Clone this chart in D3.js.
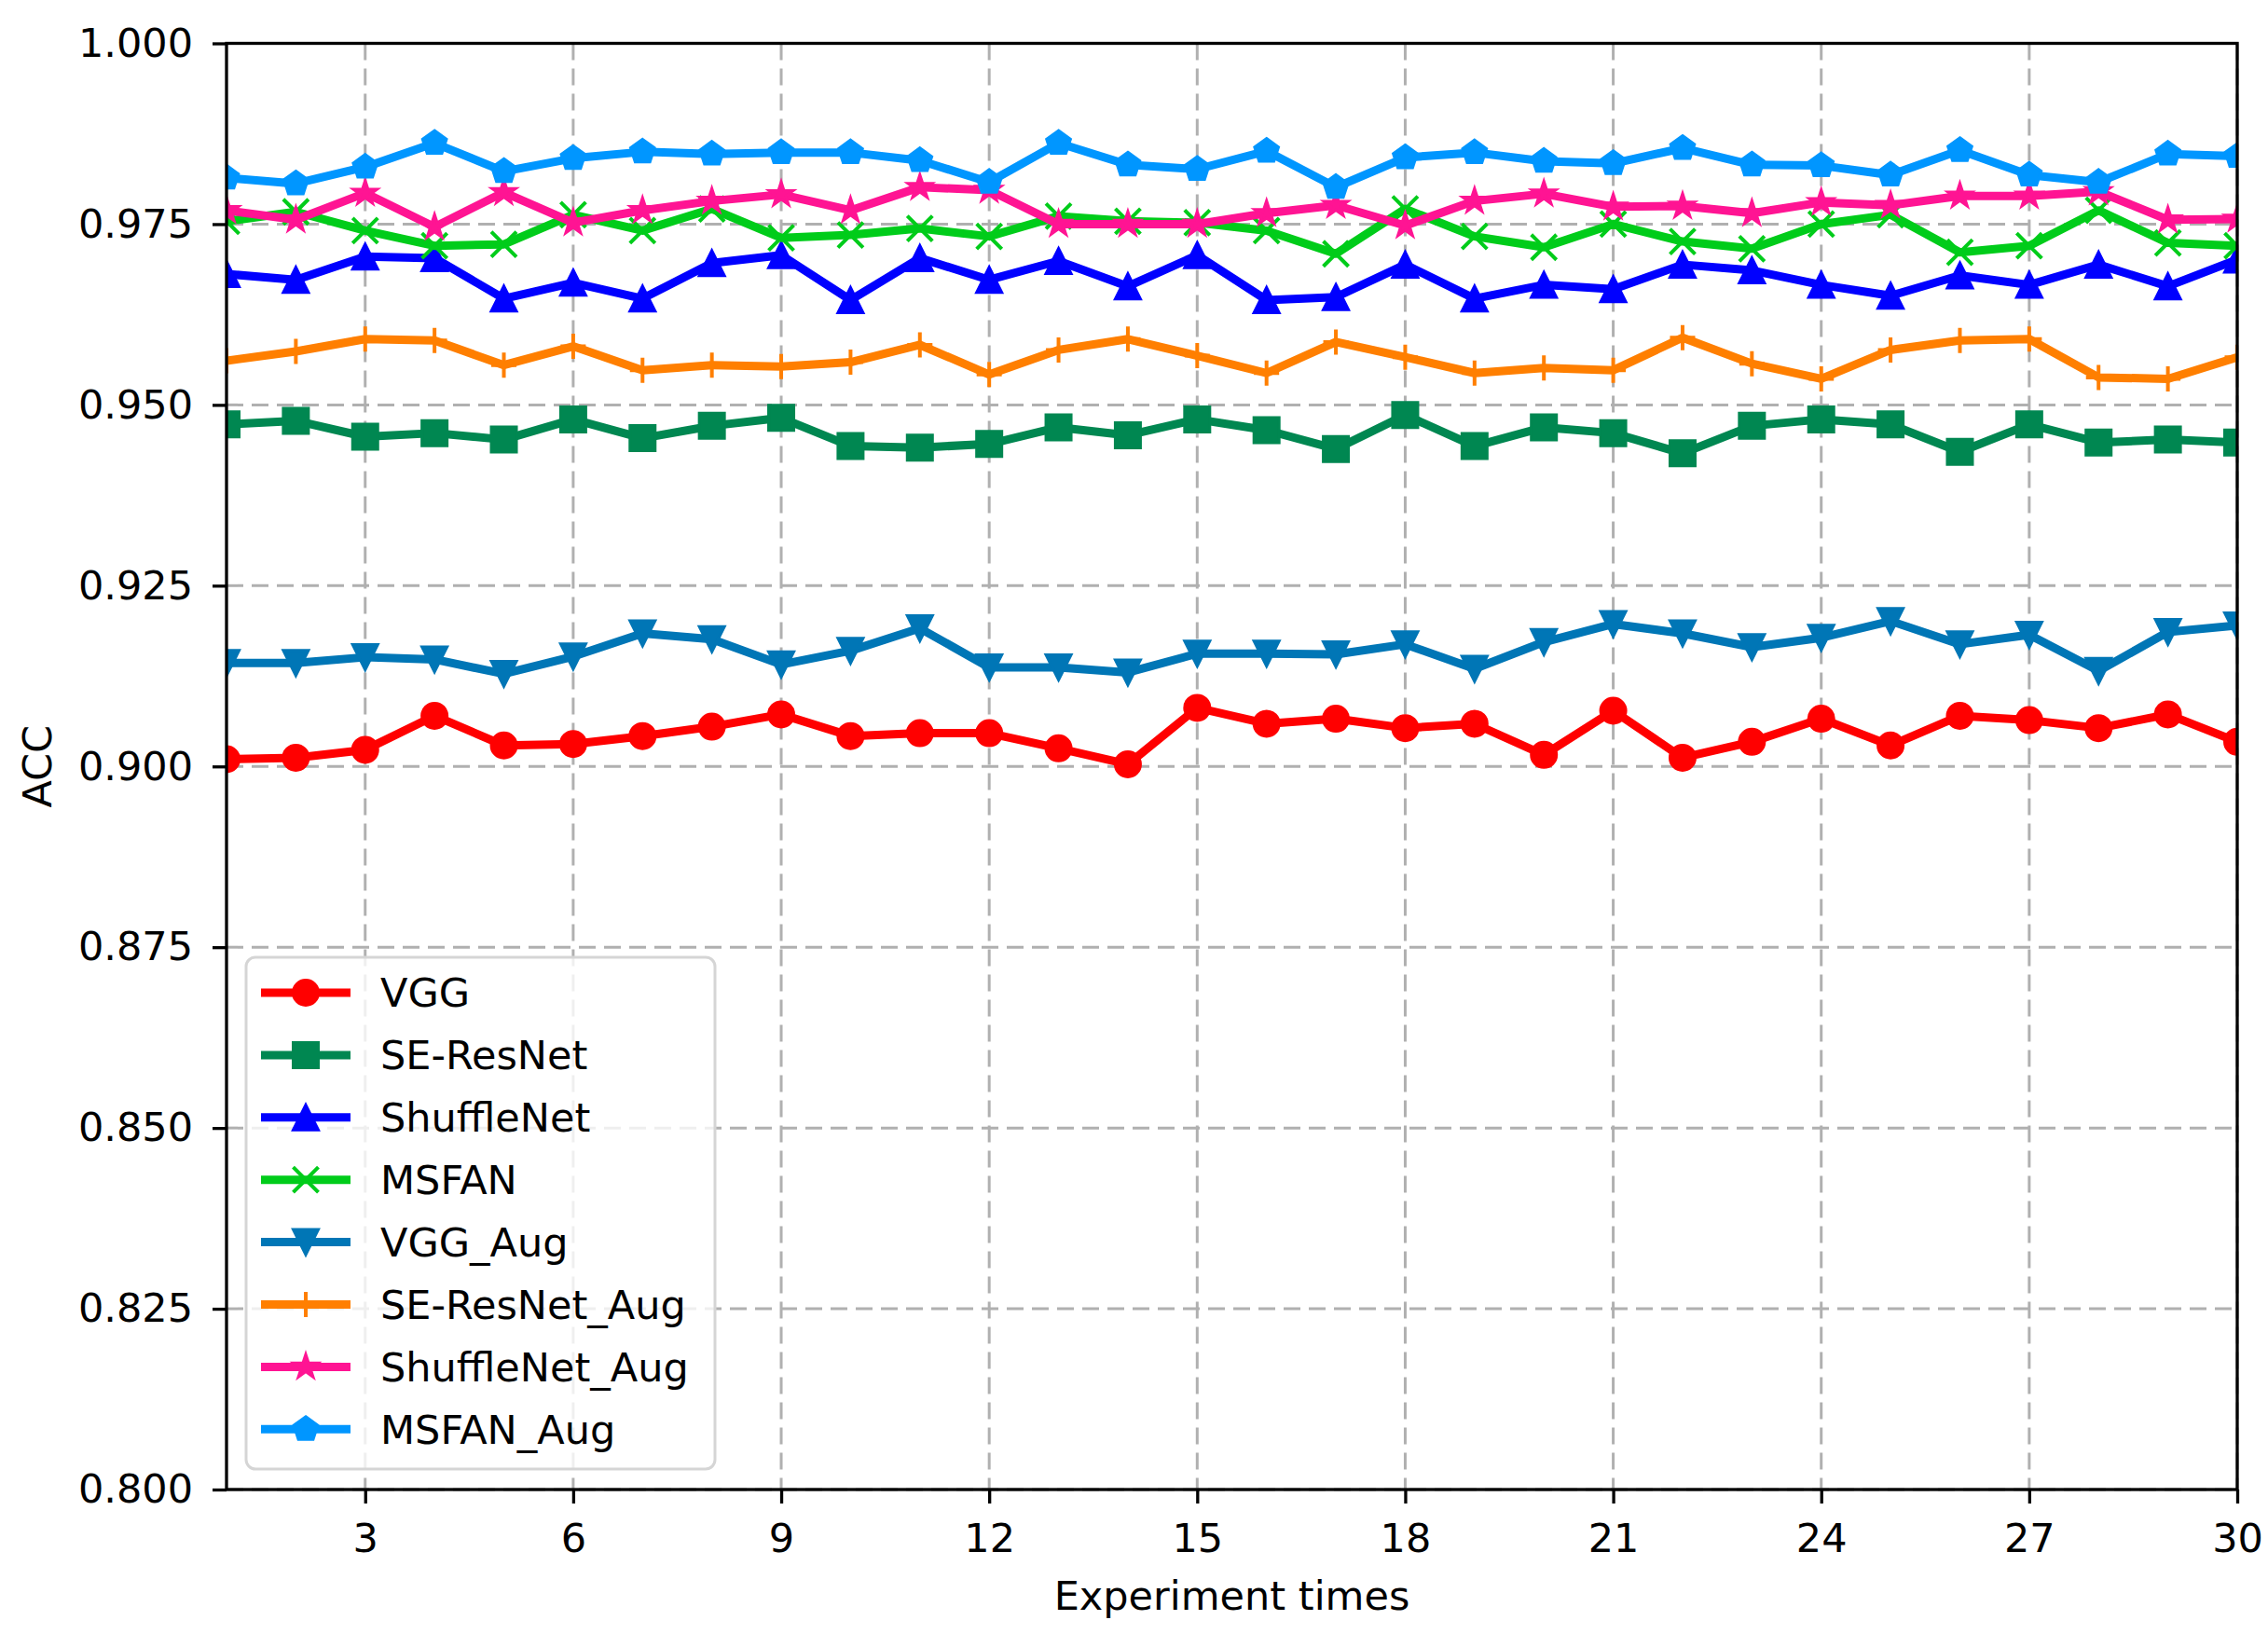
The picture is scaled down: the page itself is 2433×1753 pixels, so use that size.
<!DOCTYPE html>
<html lang="en">
<head>
    <meta charset="UTF-8">
    <title>ACC over experiment times</title>
    <script src="https://d3js.org/d3.v7.min.js"></script>
    <style>
        body{ margin: 0; background: #fff; }
        text{
            font-family: 'DejaVu Sans', sans-serif;
            font-size: 43px;
            fill: #000;
        }
    </style>
</head>
<body>
    <svg width="2433" height="1753"></svg>
    <script>
        // values, one array per model
        const runs = d3.range(1, 31);
        const vgg = [0.9010,0.9012,0.9023,0.9070,0.9029,0.9031,0.9042,0.9055,0.9072,0.9042,0.9046,0.9046,0.9025,0.9003,0.9081,
                     0.9059,0.9066,0.9053,0.9059,0.9016,0.9077,0.9012,0.9034,0.9066,0.9029,0.9070,0.9064,0.9053,0.9072,0.9034];
        const seResNet = [0.9473,0.9478,0.9456,0.9461,0.9452,0.9480,0.9454,0.9471,0.9482,0.9443,0.9441,0.9446,0.9469,0.9458,0.9480,
                          0.9465,0.9439,0.9486,0.9443,0.9469,0.9461,0.9433,0.9471,0.9480,0.9473,0.9435,0.9473,0.9448,0.9452,0.9448];
        const shuffleNet = [0.9681,0.9673,0.9705,0.9703,0.9647,0.9669,0.9647,0.9696,0.9707,0.9645,0.9703,0.9673,0.9699,0.9664,0.9707,
                            0.9645,0.9649,0.9694,0.9647,0.9666,0.9660,0.9694,0.9686,0.9666,0.9651,0.9679,0.9666,0.9694,0.9664,0.9701];
        const msfan = [0.9754,0.9767,0.9741,0.9720,0.9722,0.9763,0.9741,0.9771,0.9731,0.9735,0.9744,0.9733,0.9761,0.9754,0.9752,
                       0.9741,0.9709,0.9771,0.9733,0.9718,0.9750,0.9726,0.9716,0.9750,0.9763,0.9711,0.9720,0.9769,0.9724,0.9720];
        const vggAug = [0.9143,0.9143,0.9151,0.9148,0.9128,0.9152,0.9184,0.9176,0.9141,0.9160,0.9191,0.9137,0.9137,0.9130,0.9156,
                        0.9156,0.9155,0.9169,0.9135,0.9172,0.9197,0.9184,0.9165,0.9178,0.9201,0.9169,0.9182,0.9132,0.9186,0.9195];
        const seResNetAug = [0.9561,0.9574,0.9591,0.9589,0.9555,0.9581,0.9548,0.9555,0.9553,0.9559,0.9583,0.9542,0.9576,0.9591,0.9568,
                             0.9544,0.9587,0.9566,0.9544,0.9551,0.9548,0.9593,0.9557,0.9536,0.9576,0.9589,0.9591,0.9538,0.9536,0.9566];
        const shuffleNetAug = [0.9769,0.9756,0.9793,0.9746,0.9794,0.9752,0.9769,0.9782,0.9791,0.9769,0.9801,0.9797,0.9750,0.9750,0.9750,
                               0.9765,0.9776,0.9748,0.9782,0.9792,0.9774,0.9775,0.9765,0.9780,0.9776,0.9789,0.9789,0.9795,0.9756,0.9757];
        const msfanAug = [0.9814,0.9806,0.9829,0.9862,0.9823,0.9841,0.9850,0.9847,0.9849,0.9849,0.9838,0.9808,0.9862,0.9832,0.9826,
                          0.9851,0.9801,0.9842,0.9849,0.9837,0.9834,0.9855,0.9832,0.9831,0.9818,0.9852,0.9818,0.9808,0.9847,0.9844];

        const names = ["VGG", "SE-ResNet", "ShuffleNet", "MSFAN", "VGG_Aug", "SE-ResNet_Aug", "ShuffleNet_Aug", "MSFAN_Aug"];
        const colors = ["#ff0000", "#008751", "#0000ff", "#00cc1a", "#0076b6", "#ff7f00", "#ff1493", "#0096ff"];
        const markers = ["o", "s", "^", "x", "v", "+", "*", "p"];
        const xTicks = d3.range(3, 31, 3);
        const yTicks = d3.range(0, 9).map(i => 0.8 + i * 0.025);

        const series = names.map((name, i) => ({
            name: name, color: colors[i], marker: markers[i],
            values: [vgg, seResNet, shuffleNet, msfan, vggAug, seResNetAug, shuffleNetAug, msfanAug][i]
        }));

        const plotL = 243, plotR = 2400, plotT = 46.5, plotB = 1598;
        const scaleX = d3.scaleLinear().domain([1, 30]).range([plotL, plotR]);
        const scaleY = d3.scaleLinear().domain([0.8, 1.0]).range([plotB, plotT]);
        const ms = 27, lw = 9;
        const svg = d3.select("svg");

        // marker paths, centred on 0,0
        function markerPath(m){
            const h = ms / 2;
            if(m == "o") return d3.symbol(d3.symbolCircle, Math.PI * h * h)();
            if(m == "s") return `M${-h},${-h}H${h}V${h}H${-h}Z`;
            if(m == "^") return `M0,${-h}L${h},${h}L${-h},${h}Z`;
            if(m == "v") return `M0,${h}L${h},${-h}L${-h},${-h}Z`;
            if(m == "x") return `M${-h},${-h}L${h},${h}M${-h},${h}L${h},${-h}`;
            if(m == "+") return `M${-h},0H${h}M0,${-h}V${h}`;
            if(m == "*" || m == "p"){
                const n = m == "*" ? 10 : 5;
                const pts = d3.range(n).map(k => {
                    const r = (m == "*" && k % 2) ? h * 0.381966 : h;
                    const a = -Math.PI / 2 + k * 2 * Math.PI / n;
                    return [r * Math.cos(a), r * Math.sin(a)];
                });
                return "M" + pts.join("L") + "Z";
            }
        }

        function drawMarker(g, d, x, y){
            const open = d.marker == "x" || d.marker == "+";
            g.append("path")
                .attr("d", markerPath(d.marker))
                .attr("transform", `translate(${[x, y]})`)
                .attr("fill", open ? "none" : d.color)
                .attr("stroke", d.color)
                .attr("stroke-width", open ? 4 : 3)
                .attr("stroke-linejoin", "miter");
        }

        drawAxes();
        draw();
        drawLegend();

        function drawAxes(){
            //grid lines first so the data sits on top
            const grid = svg.append("g").attr("class", "grid")
                .attr("stroke", "#b0b0b0").attr("stroke-width", 3);
            grid.selectAll("line.gx").data(xTicks).join("line").attr("class", "gx")
                .attr("x1", d => scaleX(d)).attr("x2", d => scaleX(d))
                .attr("y1", plotT).attr("y2", plotB)
                .attr("stroke-dasharray", "18,9");
            grid.selectAll("line.gy").data(yTicks).join("line").attr("class", "gy")
                .attr("y1", d => scaleY(d)).attr("y2", d => scaleY(d))
                .attr("x1", plotL).attr("x2", plotR)
                .attr("stroke-dasharray", "18,9");

            const axisX = d3.axisBottom(scaleX).tickValues(xTicks).tickSize(15).tickPadding(21);
            const axisY = d3.axisLeft(scaleY).tickValues(yTicks).tickFormat(d3.format(".3f"))
                .tickSize(15).tickPadding(21);
            const xG = svg.append("g").attr("transform", `translate(${[0, plotB]})`).call(axisX);
            const yG = svg.append("g").attr("transform", `translate(${[plotL, 0]})`).call(axisY);
            [xG, yG].forEach(g => {
                g.select(".domain").remove();
                g.selectAll("line").attr("stroke", "#000").attr("stroke-width", 3.3);
                g.selectAll("text").attr("font-size", 42).attr("font-family", "'DejaVu Sans', sans-serif");
            });

            //labels
            svg.append("text").text("Experiment times")
                .attr("text-anchor", "middle")
                .attr("transform", `translate(${[(plotL + plotR) / 2, 1727]})`);
            svg.append("text").text("ACC")
                .attr("text-anchor", "middle")
                .attr("transform", `translate(${[55, (plotT + plotB) / 2]}) rotate(-90)`);
        } //end drawAxes function

        function draw(){
            svg.append("clipPath").attr("id", "plot")
                .append("rect").attr("x", plotL).attr("y", plotT)
                .attr("width", plotR - plotL).attr("height", plotB - plotT);
            const plot = svg.append("g").attr("clip-path", "url(#plot)");
            const line = d3.line().x((d, i) => scaleX(runs[i])).y(d => scaleY(d));

            series.forEach(s => {
                const g = plot.append("g").attr("class", "series");
                g.append("path").attr("d", line(s.values))
                    .attr("fill", "none").attr("stroke", s.color)
                    .attr("stroke-width", lw).attr("stroke-linejoin", "round");
                s.values.forEach((v, i) => drawMarker(g, s, scaleX(runs[i]), scaleY(v)));
            });

            //frame on top
            svg.append("rect").attr("x", plotL).attr("y", plotT)
                .attr("width", plotR - plotL).attr("height", plotB - plotT)
                .attr("fill", "none").attr("stroke", "#000").attr("stroke-width", 3.3);
        } //end draw function

        function drawLegend(){
            const lg = svg.append("g").attr("class", "legend");
            lg.append("rect").attr("x", 264).attr("y", 1027)
                .attr("width", 503).attr("height", 549).attr("rx", 10)
                .attr("fill", "#fff").attr("fill-opacity", 0.8)
                .attr("stroke", "#d5d5d5").attr("stroke-width", 3);
            series.forEach((s, i) => {
                const y = 1065 + i * 66.9;
                lg.append("line").attr("x1", 280).attr("x2", 376).attr("y1", y).attr("y2", y)
                    .attr("stroke", s.color).attr("stroke-width", lw);
                drawMarker(lg, s, 328, y);
                lg.append("text").text(s.name).attr("x", 408).attr("y", y).attr("dy", "0.36em")
                    .attr("font-size", 44);
            });
        } //end drawLegend function
    </script>
</body>
</html>
